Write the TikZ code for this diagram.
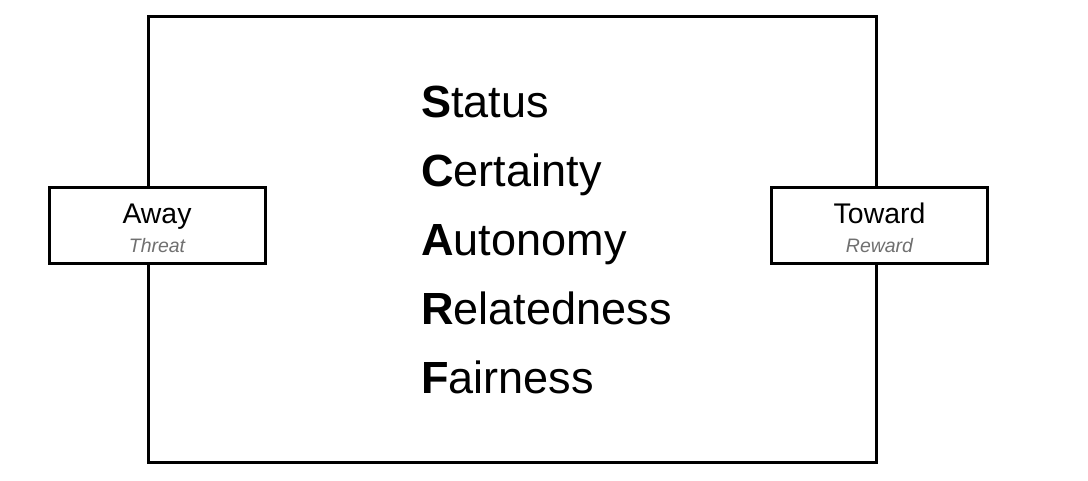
\documentclass[tikz,border=0pt]{standalone}
\usepackage{fontspec}
\setmainfont{Liberation Sans}
\definecolor{subgray}{HTML}{707070}
\begin{document}
\begin{tikzpicture}[x=0.75pt,y=-0.75pt,
  frame/.style={draw,line width=2.25pt,inner sep=0pt,outer sep=0pt,minimum width=546pt,minimum height=334.5pt},
  sidebox/.style={draw,fill=white,line width=2.25pt,inner sep=0pt,outer sep=0pt,minimum width=162pt,minimum height=57pt},
  bigword/.style={anchor=base west,inner sep=0pt,font=\fontsize{33.8pt}{40pt}\selectfont},
  mainlabel/.style={anchor=base,inner sep=0pt,font=\fontsize{21.3pt}{25pt}\selectfont},
  sublabel/.style={anchor=base,inner sep=0pt,text=subgray,font=\fontsize{14.6pt}{18pt}\selectfont\itshape}]
\useasboundingbox (0,0) rectangle (1088,480);
\node[frame] (frame) at (512.5,239.5) {};
\node[sidebox] (away) at (157,225.5) {};
\node[sidebox] (toward) at (879.5,225.5) {};
\node[mainlabel] (awayt) at (157,223) {Away};
\node[sublabel] (threat) at (157,252) {Threat};
\node[mainlabel] (towardt) at (879.5,223) {Toward};
\node[sublabel] (reward) at (879.5,252) {Reward};
\node[bigword] (s) at (421,117) {\textbf{S}tatus};
\node[bigword] (c) at (421,186) {\textbf{C}ertainty};
\node[bigword] (a) at (421,255) {\textbf{A}utonomy};
\node[bigword] (r) at (421,324) {\textbf{R}elatedness};
\node[bigword] (f) at (421,393) {\textbf{F}airness};
\end{tikzpicture}
\end{document}
